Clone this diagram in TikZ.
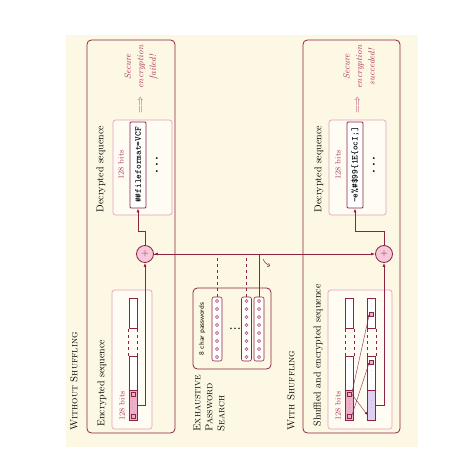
\documentclass[tikz,border=0pt]{standalone}
\usepackage{tikz}
\usetikzlibrary{arrows.meta}
\definecolor{framered}{RGB}{140,35,65}
\definecolor{bgcream}{RGB}{252,248,228}
\definecolor{softpink}{RGB}{230,160,185}
\definecolor{cellpink}{RGB}{238,175,202}
\definecolor{xorpink}{RGB}{245,200,218}
\definecolor{lavender}{RGB}{222,208,242}
\definecolor{notered}{RGB}{175,55,95}

\begin{document}
\begin{tikzpicture}[x=1pt,y=1pt,rotate=90,transform shape,
  panel/.style={rectangle,draw=framered,line width=0.8pt,rounded corners=1ex},
  seqbox/.style={rectangle,draw=softpink,line width=0.7pt,fill=white!55!bgcream,rounded corners=.6ex},
  seg/.style={rectangle,draw=framered,line width=0.6pt,fill=white,minimum height=8pt,inner sep=0pt},
  cell/.style={rectangle,draw=framered,line width=0.3pt,fill=cellpink,minimum size=4pt,inner sep=0pt},
  segdots/.style={inner sep=0pt,text=framered,font=\tiny},
  pwbar/.style={rectangle,draw=framered,line width=0.6pt,fill=white,rounded corners=2pt,minimum width=64pt,minimum height=10pt,inner sep=0pt},
  pwdot/.style={circle,draw=framered,line width=0.3pt,fill=cellpink,minimum size=3.5pt,inner sep=0pt},
  xor/.style={circle,draw=framered,line width=0.8pt,fill=xorpink,text=framered,minimum size=17pt,inner sep=0pt},
  decbar/.style={rectangle,draw=framered,line width=0.8pt,fill=white,rounded corners=1pt,minimum width=86pt,minimum height=16pt,inner sep=0pt,font=\small\ttfamily\bfseries},
  bigdots/.style={font=\large\boldmath},
  paneltitle/.style={anchor=west,font=\scshape},
  seqlabel/.style={anchor=west},
  bits/.style={font=\footnotesize,text=notered},
  verdict/.style={align=center,font={\fontsize{9}{12.5}\selectfont\itshape},text=notered},
  conn/.style={draw=framered,line width=0.7pt,-{Latex[length=4pt,width=3pt]}},
  shuf/.style={draw=framered,line width=0.4pt,-{Latex[length=3pt,width=2.5pt]}}
  ]

\useasboundingbox (0,0) rectangle (474,-474);
\fill[bgcream] (27,-66) rectangle (439,-418);

% without shuffling
\node[paneltitle] (titleA) at (40,-74) {Without Shuffling};
\node[panel,minimum width=393pt,minimum height=88pt] (panelA) at (237.5,-131) {};
\node[seqlabel] (encLabelA) at (44,-102) {Encrypted sequence};
\node[seqbox,minimum width=139pt,minimum height=40pt] (encBoxA) at (114.5,-132) {};
\node[bits] (encBitsA) at (68,-122) {128 bits};
\node[seg,fill=cellpink,minimum width=30pt] (encA1) at (69,-133) {};
\node[seg,minimum width=34pt] (encA2) at (101,-133) {};
\node[seg,minimum width=30pt] (encA3) at (161,-133) {};
\draw[framered,line width=0.6pt,dashed] (encA2.north east) -- (encA3.north west) (encA2.south east) -- (encA3.south west);
\node[cell] (encA1a) at (58,-133) {};
\node[cell] (encA1b) at (80,-133) {};
\node[segdots] (encA1d) at (69,-133) {$\cdots$};

\node[xor] (xorA) at (220,-145) {$+$};

\node[seqlabel] (decLabelA) at (258,-101) {Decrypted sequence};
\node[seqbox,minimum width=95pt,minimum height=59pt] (decBoxA) at (306.5,-142.5) {};
\node[bits] (decBitsA) at (309,-121) {128 bits};
\node[decbar] (decA) at (309,-138) {\#\#fileformat=VCF};
\node[bigdots] (decDotsA) at (309,-157) {$\cdots$};
\node[text=notered] (impA) at (369,-141) {$\Longrightarrow$};
\node[verdict] (verdictA) at (407,-141) {Secure\\encryption\\failed!};

\draw[conn] (encA1.south) |- (xorA.west);
\draw[conn] (xorA.east) -- ++(14,0) |- (decA.west);

% password search
\node[anchor=north west,align=left,font=\scshape] (searchLabel) at (39,-190) {Exhaustive\\Password\\Search};
\node[panel,minimum width=81pt,minimum height=78pt] (pwBox) at (145.5,-232) {};
\node[font=\sffamily\scriptsize] (pwLabel) at (145,-202) {8 char passwords};
\node[pwbar] (pwA) at (145,-217) {};
\node[pwbar] (pwB) at (145,-246.5) {};
\node[pwbar] (pwC) at (145,-259) {};
\foreach \k in {0,...,7} {
  \node[pwdot] (pwA-\k) at (117+8*\k,-217) {};
  \node[pwdot] (pwB-\k) at (117+8*\k,-246.5) {};
  \node[pwdot] (pwC-\k) at (117+8*\k,-259) {};
}
\node[font=\bfseries] (pwDots) at (145,-232) {$\vdots$};

\node[xor] (xorB) at (220,-384) {$+$};

\coordinate (juncC) at (220,-259);
\draw[framered,line width=0.8pt,{Latex[length=4pt,width=3pt]}-{Latex[length=4pt,width=3pt]}] (xorA.south) -- (xorB.north);
\draw[framered,line width=0.8pt] (pwC.east) -- (juncC);
\draw[framered,line width=0.8pt,dashed] (pwA.east) -| (xorA.south);
\draw[framered,line width=0.8pt,dashed] (pwB.east) -| (xorA.south);
\coordinate (hookS) at (215,-263);
\coordinate (hookE) at (208,-270);
\draw[framered,line width=0.5pt,-{Straight Barb[length=2pt]}] (hookS) to[bend right=20] (hookE);

% with shuffling
\node[paneltitle] (titleB) at (40,-291) {With Shuffling};
\node[panel,minimum width=393pt,minimum height=97pt] (panelB) at (237.5,-351.5) {};
\node[seqlabel] (encLabelB) at (44,-318) {Shuffled and encrypted sequence};
\node[seqbox,minimum width=139pt,minimum height=64pt] (encBoxB) at (114.5,-360) {};
\node[bits] (encBitsB) at (68,-338) {128 bits};
\node[seg,fill=cellpink,minimum width=30pt] (shufA1) at (69,-349.5) {};
\node[seg,minimum width=34pt] (shufA2) at (101,-349.5) {};
\node[seg,minimum width=30pt] (shufA3) at (161,-349.5) {};
\draw[framered,line width=0.6pt,dashed] (shufA2.north east) -- (shufA3.north west) (shufA2.south east) -- (shufA3.south west);
\node[cell] (shufA1a) at (58,-349.5) {};
\node[cell] (shufA1b) at (80,-349.5) {};
\node[segdots] (shufA1d) at (69,-349.5) {$\cdots$};

\node[seg,fill=lavender,minimum width=30pt] (shufB1) at (69,-371.5) {};
\node[seg,minimum width=34pt] (shufB2) at (101,-371.5) {};
\node[seg,minimum width=30pt] (shufB3) at (161,-371.5) {};
\draw[framered,line width=0.6pt,dashed] (shufB2.north east) -- (shufB3.north west) (shufB2.south east) -- (shufB3.south west);
\node[segdots] (shufB1d) at (69,-371.5) {$\cdots$};
\node[cell] (shufB2a) at (112,-371.5) {};
\node[segdots] (shufB2d) at (99,-371.5) {$\cdots$};
\node[cell] (shufB3a) at (160,-371.5) {};
\node[segdots] (shufB3d) at (170,-371.5) {$\cdots$};
\coordinate (shufB1in) at (59,-367.5);

\draw[shuf] (shufA1b.south) -- (shufB3a.north);
\draw[shuf] (shufA1a.south) -- (shufB2a.north);
\draw[shuf] (shufA1b.south) -- (shufB1in);

\node[seqlabel] (decLabelB) at (258,-319) {Decrypted sequence};
\node[seqbox,minimum width=95pt,minimum height=57pt] (decBoxB) at (306.5,-357.5) {};
\node[bits] (decBitsB) at (309,-338) {128 bits};
\node[decbar] (decB) at (309,-355) {-e\%\#\$99\{1E\{ocI;]};
\node[bigdots] (decDotsB) at (309,-374) {$\cdots$};
\node[text=notered] (impB) at (369,-358) {$\Longrightarrow$};
\node[verdict] (verdictB) at (407,-359) {Secure\\encryption\\succeded!};

\draw[conn] (shufB1.south) |- (xorB.west);
\draw[conn] (xorB.east) -- ++(14,0) |- (decB.west);

\end{tikzpicture}
\end{document}
